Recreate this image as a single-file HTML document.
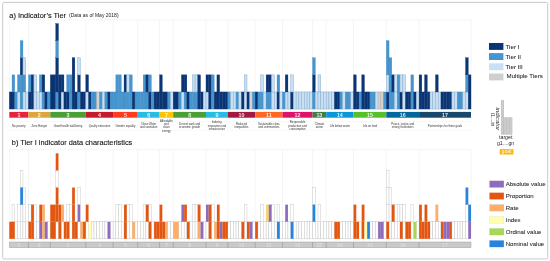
<!DOCTYPE html>
<html lang="en"><head><meta charset="utf-8"><title>SDG indicator tiers</title>
<style>html,body{margin:0;padding:0;background:#fff}body{width:550px;height:261px;position:relative;overflow:hidden}</style></head>
<body>
<svg width="550" height="261" viewBox="0 0 550 261" style="position:absolute;left:0;top:0;font-family:'Liberation Sans',Arial,sans-serif">
<rect x="2.7" y="2.4" width="545" height="256.5" rx="1.2" ry="1.2" fill="#fff" stroke="#c9c9c9" stroke-width="1"/>
<g stroke="#ebebeb" stroke-width="0.5" fill="none"><line x1="9.3" y1="19.8" x2="9.3" y2="109"/><line x1="28.42" y1="19.8" x2="28.42" y2="109"/><line x1="50.28" y1="19.8" x2="50.28" y2="109"/><line x1="85.8" y1="19.8" x2="85.8" y2="109"/><line x1="113.12" y1="19.8" x2="113.12" y2="109"/><line x1="137.7" y1="19.8" x2="137.7" y2="109"/><line x1="159.56" y1="19.8" x2="159.56" y2="109"/><line x1="173.22" y1="19.8" x2="173.22" y2="109"/><line x1="206" y1="19.8" x2="206" y2="109"/><line x1="227.86" y1="19.8" x2="227.86" y2="109"/><line x1="255.18" y1="19.8" x2="255.18" y2="109"/><line x1="282.5" y1="19.8" x2="282.5" y2="109"/><line x1="312.55" y1="19.8" x2="312.55" y2="109"/><line x1="326.21" y1="19.8" x2="326.21" y2="109"/><line x1="353.53" y1="19.8" x2="353.53" y2="109"/><line x1="386.32" y1="19.8" x2="386.32" y2="109"/><line x1="419.1" y1="19.8" x2="419.1" y2="109"/><line x1="471.01" y1="19.8" x2="471.01" y2="109"/><line x1="9.3" y1="19.8" x2="471.01" y2="19.8"/></g>
<g stroke="#f1f1f1" stroke-width="0.5"><line x1="9.3" y1="121.6" x2="471" y2="121.6"/><line x1="9.3" y1="130.2" x2="471" y2="130.2"/></g>
<g stroke="#ebebeb" stroke-width="0.5" fill="none"><line x1="9.3" y1="149.6" x2="9.3" y2="238.6"/><line x1="28.42" y1="149.6" x2="28.42" y2="238.6"/><line x1="50.28" y1="149.6" x2="50.28" y2="238.6"/><line x1="85.8" y1="149.6" x2="85.8" y2="238.6"/><line x1="113.12" y1="149.6" x2="113.12" y2="238.6"/><line x1="137.7" y1="149.6" x2="137.7" y2="238.6"/><line x1="159.56" y1="149.6" x2="159.56" y2="238.6"/><line x1="173.22" y1="149.6" x2="173.22" y2="238.6"/><line x1="206" y1="149.6" x2="206" y2="238.6"/><line x1="227.86" y1="149.6" x2="227.86" y2="238.6"/><line x1="255.18" y1="149.6" x2="255.18" y2="238.6"/><line x1="282.5" y1="149.6" x2="282.5" y2="238.6"/><line x1="312.55" y1="149.6" x2="312.55" y2="238.6"/><line x1="326.21" y1="149.6" x2="326.21" y2="238.6"/><line x1="353.53" y1="149.6" x2="353.53" y2="238.6"/><line x1="386.32" y1="149.6" x2="386.32" y2="238.6"/><line x1="419.1" y1="149.6" x2="419.1" y2="238.6"/><line x1="471.01" y1="149.6" x2="471.01" y2="238.6"/><line x1="9.3" y1="149.6" x2="471.01" y2="149.6"/></g>
<g stroke-width="0.3"><rect x="9.3" y="91.95" width="2.73" height="17.1" fill="#0a3575" stroke="#0a2f68"/><rect x="12.03" y="91.95" width="2.73" height="17.1" fill="#0a3575" stroke="#0a2f68"/><rect x="14.76" y="91.95" width="2.73" height="17.1" fill="#4596d0" stroke="#3b82b8"/><rect x="17.5" y="91.95" width="2.73" height="17.1" fill="#c9e0f4" stroke="#8aadcb" stroke-width="0.5"/><rect x="20.23" y="91.95" width="2.73" height="17.1" fill="#4596d0" stroke="#3b82b8"/><rect x="22.96" y="91.95" width="2.73" height="17.1" fill="#c9e0f4" stroke="#8aadcb" stroke-width="0.5"/><rect x="25.69" y="91.95" width="2.73" height="17.1" fill="#c9e0f4" stroke="#8aadcb" stroke-width="0.5"/><rect x="28.42" y="91.95" width="2.73" height="17.1" fill="#0a3575" stroke="#0a2f68"/><rect x="31.16" y="91.95" width="2.73" height="17.1" fill="#0a3575" stroke="#0a2f68"/><rect x="33.89" y="91.95" width="2.73" height="17.1" fill="#c9e0f4" stroke="#8aadcb" stroke-width="0.5"/><rect x="36.62" y="91.95" width="2.73" height="17.1" fill="#c9e0f4" stroke="#8aadcb" stroke-width="0.5"/><rect x="39.35" y="91.95" width="2.73" height="17.1" fill="#c9e0f4" stroke="#8aadcb" stroke-width="0.5"/><rect x="42.08" y="91.95" width="2.73" height="17.1" fill="#4596d0" stroke="#3b82b8"/><rect x="44.82" y="91.95" width="2.73" height="17.1" fill="#0a3575" stroke="#0a2f68"/><rect x="47.55" y="91.95" width="2.73" height="17.1" fill="#4596d0" stroke="#3b82b8"/><rect x="50.28" y="91.95" width="2.73" height="17.1" fill="#0a3575" stroke="#0a2f68"/><rect x="53.01" y="91.95" width="2.73" height="17.1" fill="#0a3575" stroke="#0a2f68"/><rect x="55.74" y="91.95" width="2.73" height="17.1" fill="#4596d0" stroke="#3b82b8"/><rect x="58.48" y="91.95" width="2.73" height="17.1" fill="#0a3575" stroke="#0a2f68"/><rect x="61.21" y="91.95" width="2.73" height="17.1" fill="#c9e0f4" stroke="#8aadcb" stroke-width="0.5"/><rect x="63.94" y="91.95" width="2.73" height="17.1" fill="#0a3575" stroke="#0a2f68"/><rect x="66.67" y="91.95" width="2.73" height="17.1" fill="#0a3575" stroke="#0a2f68"/><rect x="69.4" y="91.95" width="2.73" height="17.1" fill="#4596d0" stroke="#3b82b8"/><rect x="72.14" y="91.95" width="2.73" height="17.1" fill="#0a3575" stroke="#0a2f68"/><rect x="74.87" y="91.95" width="2.73" height="17.1" fill="#0a3575" stroke="#0a2f68"/><rect x="77.6" y="91.95" width="2.73" height="17.1" fill="#4596d0" stroke="#3b82b8"/><rect x="80.33" y="91.95" width="2.73" height="17.1" fill="#0a3575" stroke="#0a2f68"/><rect x="83.06" y="91.95" width="2.73" height="17.1" fill="#0a3575" stroke="#0a2f68"/><rect x="85.8" y="91.95" width="2.73" height="17.1" fill="#c9e0f4" stroke="#8aadcb" stroke-width="0.5"/><rect x="88.53" y="91.95" width="2.73" height="17.1" fill="#0a3575" stroke="#0a2f68"/><rect x="91.26" y="91.95" width="2.73" height="17.1" fill="#4596d0" stroke="#3b82b8"/><rect x="93.99" y="91.95" width="2.73" height="17.1" fill="#4596d0" stroke="#3b82b8"/><rect x="96.72" y="91.95" width="2.73" height="17.1" fill="#d6d2d0" stroke="#b3adaa" stroke-width="0.5"/><rect x="99.46" y="91.95" width="2.73" height="17.1" fill="#4596d0" stroke="#3b82b8"/><rect x="102.19" y="91.95" width="2.73" height="17.1" fill="#c9e0f4" stroke="#8aadcb" stroke-width="0.5"/><rect x="104.92" y="91.95" width="2.73" height="17.1" fill="#4596d0" stroke="#3b82b8"/><rect x="107.65" y="91.95" width="2.73" height="17.1" fill="#0a3575" stroke="#0a2f68"/><rect x="110.38" y="91.95" width="2.73" height="17.1" fill="#4596d0" stroke="#3b82b8"/><rect x="113.12" y="91.95" width="2.73" height="17.1" fill="#4596d0" stroke="#3b82b8"/><rect x="115.85" y="91.95" width="2.73" height="17.1" fill="#4596d0" stroke="#3b82b8"/><rect x="118.58" y="91.95" width="2.73" height="17.1" fill="#4596d0" stroke="#3b82b8"/><rect x="121.31" y="91.95" width="2.73" height="17.1" fill="#4596d0" stroke="#3b82b8"/><rect x="124.04" y="91.95" width="2.73" height="17.1" fill="#4596d0" stroke="#3b82b8"/><rect x="126.78" y="91.95" width="2.73" height="17.1" fill="#4596d0" stroke="#3b82b8"/><rect x="129.51" y="91.95" width="2.73" height="17.1" fill="#4596d0" stroke="#3b82b8"/><rect x="132.24" y="91.95" width="2.73" height="17.1" fill="#0a3575" stroke="#0a2f68"/><rect x="134.97" y="91.95" width="2.73" height="17.1" fill="#4596d0" stroke="#3b82b8"/><rect x="137.7" y="91.95" width="2.73" height="17.1" fill="#4596d0" stroke="#3b82b8"/><rect x="140.44" y="91.95" width="2.73" height="17.1" fill="#4596d0" stroke="#3b82b8"/><rect x="143.17" y="91.95" width="2.73" height="17.1" fill="#4596d0" stroke="#3b82b8"/><rect x="145.9" y="91.95" width="2.73" height="17.1" fill="#4596d0" stroke="#3b82b8"/><rect x="148.63" y="91.95" width="2.73" height="17.1" fill="#0a3575" stroke="#0a2f68"/><rect x="151.36" y="91.95" width="2.73" height="17.1" fill="#4596d0" stroke="#3b82b8"/><rect x="154.1" y="91.95" width="2.73" height="17.1" fill="#0a3575" stroke="#0a2f68"/><rect x="156.83" y="91.95" width="2.73" height="17.1" fill="#0a3575" stroke="#0a2f68"/><rect x="159.56" y="91.95" width="2.73" height="17.1" fill="#0a3575" stroke="#0a2f68"/><rect x="162.29" y="91.95" width="2.73" height="17.1" fill="#0a3575" stroke="#0a2f68"/><rect x="165.02" y="91.95" width="2.73" height="17.1" fill="#0a3575" stroke="#0a2f68"/><rect x="167.76" y="91.95" width="2.73" height="17.1" fill="#4596d0" stroke="#3b82b8"/><rect x="170.49" y="91.95" width="2.73" height="17.1" fill="#c9e0f4" stroke="#8aadcb" stroke-width="0.5"/><rect x="173.22" y="91.95" width="2.73" height="17.1" fill="#0a3575" stroke="#0a2f68"/><rect x="175.95" y="91.95" width="2.73" height="17.1" fill="#0a3575" stroke="#0a2f68"/><rect x="178.68" y="91.95" width="2.73" height="17.1" fill="#4596d0" stroke="#3b82b8"/><rect x="181.42" y="91.95" width="2.73" height="17.1" fill="#c9e0f4" stroke="#8aadcb" stroke-width="0.5"/><rect x="184.15" y="91.95" width="2.73" height="17.1" fill="#4596d0" stroke="#3b82b8"/><rect x="186.88" y="91.95" width="2.73" height="17.1" fill="#0a3575" stroke="#0a2f68"/><rect x="189.61" y="91.95" width="2.73" height="17.1" fill="#4596d0" stroke="#3b82b8"/><rect x="192.34" y="91.95" width="2.73" height="17.1" fill="#4596d0" stroke="#3b82b8"/><rect x="195.08" y="91.95" width="2.73" height="17.1" fill="#4596d0" stroke="#3b82b8"/><rect x="197.81" y="91.95" width="2.73" height="17.1" fill="#0a3575" stroke="#0a2f68"/><rect x="200.54" y="91.95" width="2.73" height="17.1" fill="#0a3575" stroke="#0a2f68"/><rect x="203.27" y="91.95" width="2.73" height="17.1" fill="#c9e0f4" stroke="#8aadcb" stroke-width="0.5"/><rect x="206" y="91.95" width="2.73" height="17.1" fill="#c9e0f4" stroke="#8aadcb" stroke-width="0.5"/><rect x="208.74" y="91.95" width="2.73" height="17.1" fill="#0a3575" stroke="#0a2f68"/><rect x="211.47" y="91.95" width="2.73" height="17.1" fill="#4596d0" stroke="#3b82b8"/><rect x="214.2" y="91.95" width="2.73" height="17.1" fill="#0a3575" stroke="#0a2f68"/><rect x="216.93" y="91.95" width="2.73" height="17.1" fill="#0a3575" stroke="#0a2f68"/><rect x="219.66" y="91.95" width="2.73" height="17.1" fill="#0a3575" stroke="#0a2f68"/><rect x="222.4" y="91.95" width="2.73" height="17.1" fill="#0a3575" stroke="#0a2f68"/><rect x="225.13" y="91.95" width="2.73" height="17.1" fill="#0a3575" stroke="#0a2f68"/><rect x="227.86" y="91.95" width="2.73" height="17.1" fill="#4596d0" stroke="#3b82b8"/><rect x="230.59" y="91.95" width="2.73" height="17.1" fill="#c9e0f4" stroke="#8aadcb" stroke-width="0.5"/><rect x="233.32" y="91.95" width="2.73" height="17.1" fill="#c9e0f4" stroke="#8aadcb" stroke-width="0.5"/><rect x="236.06" y="91.95" width="2.73" height="17.1" fill="#4596d0" stroke="#3b82b8"/><rect x="238.79" y="91.95" width="2.73" height="17.1" fill="#c9e0f4" stroke="#8aadcb" stroke-width="0.5"/><rect x="241.52" y="91.95" width="2.73" height="17.1" fill="#0a3575" stroke="#0a2f68"/><rect x="244.25" y="91.95" width="2.73" height="17.1" fill="#c9e0f4" stroke="#8aadcb" stroke-width="0.5"/><rect x="246.98" y="91.95" width="2.73" height="17.1" fill="#0a3575" stroke="#0a2f68"/><rect x="249.72" y="91.95" width="2.73" height="17.1" fill="#d6d2d0" stroke="#b3adaa" stroke-width="0.5"/><rect x="252.45" y="91.95" width="2.73" height="17.1" fill="#4596d0" stroke="#3b82b8"/><rect x="255.18" y="91.95" width="2.73" height="17.1" fill="#0a3575" stroke="#0a2f68"/><rect x="257.91" y="91.95" width="2.73" height="17.1" fill="#4596d0" stroke="#3b82b8"/><rect x="260.64" y="91.95" width="2.73" height="17.1" fill="#4596d0" stroke="#3b82b8"/><rect x="263.38" y="91.95" width="2.73" height="17.1" fill="#c9e0f4" stroke="#8aadcb" stroke-width="0.5"/><rect x="266.11" y="91.95" width="2.73" height="17.1" fill="#4596d0" stroke="#3b82b8"/><rect x="268.84" y="91.95" width="2.73" height="17.1" fill="#4596d0" stroke="#3b82b8"/><rect x="271.57" y="91.95" width="2.73" height="17.1" fill="#c9e0f4" stroke="#8aadcb" stroke-width="0.5"/><rect x="274.3" y="91.95" width="2.73" height="17.1" fill="#c9e0f4" stroke="#8aadcb" stroke-width="0.5"/><rect x="277.04" y="91.95" width="2.73" height="17.1" fill="#0a3575" stroke="#0a2f68"/><rect x="279.77" y="91.95" width="2.73" height="17.1" fill="#c9e0f4" stroke="#8aadcb" stroke-width="0.5"/><rect x="282.5" y="91.95" width="2.73" height="17.1" fill="#4596d0" stroke="#3b82b8"/><rect x="285.23" y="91.95" width="2.73" height="17.1" fill="#c9e0f4" stroke="#8aadcb" stroke-width="0.5"/><rect x="287.96" y="91.95" width="2.73" height="17.1" fill="#c9e0f4" stroke="#8aadcb" stroke-width="0.5"/><rect x="290.7" y="91.95" width="2.73" height="17.1" fill="#0a3575" stroke="#0a2f68"/><rect x="293.43" y="91.95" width="2.73" height="17.1" fill="#c9e0f4" stroke="#8aadcb" stroke-width="0.5"/><rect x="296.16" y="91.95" width="2.73" height="17.1" fill="#c9e0f4" stroke="#8aadcb" stroke-width="0.5"/><rect x="298.89" y="91.95" width="2.73" height="17.1" fill="#c9e0f4" stroke="#8aadcb" stroke-width="0.5"/><rect x="301.62" y="91.95" width="2.73" height="17.1" fill="#c9e0f4" stroke="#8aadcb" stroke-width="0.5"/><rect x="304.36" y="91.95" width="2.73" height="17.1" fill="#c9e0f4" stroke="#8aadcb" stroke-width="0.5"/><rect x="307.09" y="91.95" width="2.73" height="17.1" fill="#c9e0f4" stroke="#8aadcb" stroke-width="0.5"/><rect x="309.82" y="91.95" width="2.73" height="17.1" fill="#c9e0f4" stroke="#8aadcb" stroke-width="0.5"/><rect x="312.55" y="91.95" width="2.73" height="17.1" fill="#4596d0" stroke="#3b82b8"/><rect x="315.28" y="91.95" width="2.73" height="17.1" fill="#c9e0f4" stroke="#8aadcb" stroke-width="0.5"/><rect x="318.02" y="91.95" width="2.73" height="17.1" fill="#c9e0f4" stroke="#8aadcb" stroke-width="0.5"/><rect x="320.75" y="91.95" width="2.73" height="17.1" fill="#c9e0f4" stroke="#8aadcb" stroke-width="0.5"/><rect x="323.48" y="91.95" width="2.73" height="17.1" fill="#c9e0f4" stroke="#8aadcb" stroke-width="0.5"/><rect x="326.21" y="91.95" width="2.73" height="17.1" fill="#c9e0f4" stroke="#8aadcb" stroke-width="0.5"/><rect x="328.94" y="91.95" width="2.73" height="17.1" fill="#c9e0f4" stroke="#8aadcb" stroke-width="0.5"/><rect x="331.68" y="91.95" width="2.73" height="17.1" fill="#c9e0f4" stroke="#8aadcb" stroke-width="0.5"/><rect x="334.41" y="91.95" width="2.73" height="17.1" fill="#0a3575" stroke="#0a2f68"/><rect x="337.14" y="91.95" width="2.73" height="17.1" fill="#0a3575" stroke="#0a2f68"/><rect x="339.87" y="91.95" width="2.73" height="17.1" fill="#4596d0" stroke="#3b82b8"/><rect x="342.6" y="91.95" width="2.73" height="17.1" fill="#c9e0f4" stroke="#8aadcb" stroke-width="0.5"/><rect x="345.34" y="91.95" width="2.73" height="17.1" fill="#4596d0" stroke="#3b82b8"/><rect x="348.07" y="91.95" width="2.73" height="17.1" fill="#4596d0" stroke="#3b82b8"/><rect x="350.8" y="91.95" width="2.73" height="17.1" fill="#c9e0f4" stroke="#8aadcb" stroke-width="0.5"/><rect x="353.53" y="91.95" width="2.73" height="17.1" fill="#0a3575" stroke="#0a2f68"/><rect x="356.26" y="91.95" width="2.73" height="17.1" fill="#0a3575" stroke="#0a2f68"/><rect x="359" y="91.95" width="2.73" height="17.1" fill="#4596d0" stroke="#3b82b8"/><rect x="361.73" y="91.95" width="2.73" height="17.1" fill="#0a3575" stroke="#0a2f68"/><rect x="364.46" y="91.95" width="2.73" height="17.1" fill="#0a3575" stroke="#0a2f68"/><rect x="367.19" y="91.95" width="2.73" height="17.1" fill="#0a3575" stroke="#0a2f68"/><rect x="369.92" y="91.95" width="2.73" height="17.1" fill="#4596d0" stroke="#3b82b8"/><rect x="372.66" y="91.95" width="2.73" height="17.1" fill="#4596d0" stroke="#3b82b8"/><rect x="375.39" y="91.95" width="2.73" height="17.1" fill="#c9e0f4" stroke="#8aadcb" stroke-width="0.5"/><rect x="378.12" y="91.95" width="2.73" height="17.1" fill="#d6d2d0" stroke="#b3adaa" stroke-width="0.5"/><rect x="380.85" y="91.95" width="2.73" height="17.1" fill="#d6d2d0" stroke="#b3adaa" stroke-width="0.5"/><rect x="383.58" y="91.95" width="2.73" height="17.1" fill="#4596d0" stroke="#3b82b8"/><rect x="386.32" y="91.95" width="2.73" height="17.1" fill="#0a3575" stroke="#0a2f68"/><rect x="389.05" y="91.95" width="2.73" height="17.1" fill="#4596d0" stroke="#3b82b8"/><rect x="391.78" y="91.95" width="2.73" height="17.1" fill="#4596d0" stroke="#3b82b8"/><rect x="394.51" y="91.95" width="2.73" height="17.1" fill="#c9e0f4" stroke="#8aadcb" stroke-width="0.5"/><rect x="397.24" y="91.95" width="2.73" height="17.1" fill="#4596d0" stroke="#3b82b8"/><rect x="399.98" y="91.95" width="2.73" height="17.1" fill="#0a3575" stroke="#0a2f68"/><rect x="402.71" y="91.95" width="2.73" height="17.1" fill="#c9e0f4" stroke="#8aadcb" stroke-width="0.5"/><rect x="405.44" y="91.95" width="2.73" height="17.1" fill="#0a3575" stroke="#0a2f68"/><rect x="408.17" y="91.95" width="2.73" height="17.1" fill="#0a3575" stroke="#0a2f68"/><rect x="410.9" y="91.95" width="2.73" height="17.1" fill="#4596d0" stroke="#3b82b8"/><rect x="413.64" y="91.95" width="2.73" height="17.1" fill="#0a3575" stroke="#0a2f68"/><rect x="416.37" y="91.95" width="2.73" height="17.1" fill="#c9e0f4" stroke="#8aadcb" stroke-width="0.5"/><rect x="419.1" y="91.95" width="2.73" height="17.1" fill="#0a3575" stroke="#0a2f68"/><rect x="421.83" y="91.95" width="2.73" height="17.1" fill="#0a3575" stroke="#0a2f68"/><rect x="424.56" y="91.95" width="2.73" height="17.1" fill="#0a3575" stroke="#0a2f68"/><rect x="427.3" y="91.95" width="2.73" height="17.1" fill="#0a3575" stroke="#0a2f68"/><rect x="430.03" y="91.95" width="2.73" height="17.1" fill="#c9e0f4" stroke="#8aadcb" stroke-width="0.5"/><rect x="432.76" y="91.95" width="2.73" height="17.1" fill="#c9e0f4" stroke="#8aadcb" stroke-width="0.5"/><rect x="435.49" y="91.95" width="2.73" height="17.1" fill="#c9e0f4" stroke="#8aadcb" stroke-width="0.5"/><rect x="438.22" y="91.95" width="2.73" height="17.1" fill="#c9e0f4" stroke="#8aadcb" stroke-width="0.5"/><rect x="440.96" y="91.95" width="2.73" height="17.1" fill="#0a3575" stroke="#0a2f68"/><rect x="443.69" y="91.95" width="2.73" height="17.1" fill="#0a3575" stroke="#0a2f68"/><rect x="446.42" y="91.95" width="2.73" height="17.1" fill="#0a3575" stroke="#0a2f68"/><rect x="449.15" y="91.95" width="2.73" height="17.1" fill="#0a3575" stroke="#0a2f68"/><rect x="451.88" y="91.95" width="2.73" height="17.1" fill="#c9e0f4" stroke="#8aadcb" stroke-width="0.5"/><rect x="454.62" y="91.95" width="2.73" height="17.1" fill="#c9e0f4" stroke="#8aadcb" stroke-width="0.5"/><rect x="457.35" y="91.95" width="2.73" height="17.1" fill="#4596d0" stroke="#3b82b8"/><rect x="460.08" y="91.95" width="2.73" height="17.1" fill="#4596d0" stroke="#3b82b8"/><rect x="462.81" y="91.95" width="2.73" height="17.1" fill="#c9e0f4" stroke="#8aadcb" stroke-width="0.5"/><rect x="465.54" y="91.95" width="2.73" height="17.1" fill="#c9e0f4" stroke="#8aadcb" stroke-width="0.5"/><rect x="468.28" y="91.95" width="2.73" height="17.1" fill="#0a3575" stroke="#0a2f68"/><rect x="12.03" y="74.85" width="2.73" height="17.1" fill="#4596d0" stroke="#3b82b8"/><rect x="17.5" y="74.85" width="2.73" height="17.1" fill="#4596d0" stroke="#3b82b8"/><rect x="20.23" y="74.85" width="2.73" height="17.1" fill="#4596d0" stroke="#3b82b8"/><rect x="22.96" y="74.85" width="2.73" height="17.1" fill="#4596d0" stroke="#3b82b8"/><rect x="28.42" y="74.85" width="2.73" height="17.1" fill="#4596d0" stroke="#3b82b8"/><rect x="31.16" y="74.85" width="2.73" height="17.1" fill="#0a3575" stroke="#0a2f68"/><rect x="33.89" y="74.85" width="2.73" height="17.1" fill="#c9e0f4" stroke="#8aadcb" stroke-width="0.5"/><rect x="39.35" y="74.85" width="2.73" height="17.1" fill="#4596d0" stroke="#3b82b8"/><rect x="42.08" y="74.85" width="2.73" height="17.1" fill="#0a3575" stroke="#0a2f68"/><rect x="50.28" y="74.85" width="2.73" height="17.1" fill="#0a3575" stroke="#0a2f68"/><rect x="53.01" y="74.85" width="2.73" height="17.1" fill="#0a3575" stroke="#0a2f68"/><rect x="55.74" y="74.85" width="2.73" height="17.1" fill="#0a3575" stroke="#0a2f68"/><rect x="58.48" y="74.85" width="2.73" height="17.1" fill="#0a3575" stroke="#0a2f68"/><rect x="61.21" y="74.85" width="2.73" height="17.1" fill="#0a3575" stroke="#0a2f68"/><rect x="66.67" y="74.85" width="2.73" height="17.1" fill="#4596d0" stroke="#3b82b8"/><rect x="69.4" y="74.85" width="2.73" height="17.1" fill="#4596d0" stroke="#3b82b8"/><rect x="72.14" y="74.85" width="2.73" height="17.1" fill="#0a3575" stroke="#0a2f68"/><rect x="77.6" y="74.85" width="2.73" height="17.1" fill="#0a3575" stroke="#0a2f68"/><rect x="85.8" y="74.85" width="2.73" height="17.1" fill="#0a3575" stroke="#0a2f68"/><rect x="115.85" y="74.85" width="2.73" height="17.1" fill="#4596d0" stroke="#3b82b8"/><rect x="118.58" y="74.85" width="2.73" height="17.1" fill="#4596d0" stroke="#3b82b8"/><rect x="124.04" y="74.85" width="2.73" height="17.1" fill="#0a3575" stroke="#0a2f68"/><rect x="126.78" y="74.85" width="2.73" height="17.1" fill="#c9e0f4" stroke="#8aadcb" stroke-width="0.5"/><rect x="129.51" y="74.85" width="2.73" height="17.1" fill="#4596d0" stroke="#3b82b8"/><rect x="143.17" y="74.85" width="2.73" height="17.1" fill="#4596d0" stroke="#3b82b8"/><rect x="145.9" y="74.85" width="2.73" height="17.1" fill="#0a3575" stroke="#0a2f68"/><rect x="148.63" y="74.85" width="2.73" height="17.1" fill="#4596d0" stroke="#3b82b8"/><rect x="159.56" y="74.85" width="2.73" height="17.1" fill="#0a3575" stroke="#0a2f68"/><rect x="181.42" y="74.85" width="2.73" height="17.1" fill="#0a3575" stroke="#0a2f68"/><rect x="184.15" y="74.85" width="2.73" height="17.1" fill="#0a3575" stroke="#0a2f68"/><rect x="192.34" y="74.85" width="2.73" height="17.1" fill="#c9e0f4" stroke="#8aadcb" stroke-width="0.5"/><rect x="195.08" y="74.85" width="2.73" height="17.1" fill="#c9e0f4" stroke="#8aadcb" stroke-width="0.5"/><rect x="197.81" y="74.85" width="2.73" height="17.1" fill="#0a3575" stroke="#0a2f68"/><rect x="206" y="74.85" width="2.73" height="17.1" fill="#0a3575" stroke="#0a2f68"/><rect x="208.74" y="74.85" width="2.73" height="17.1" fill="#0a3575" stroke="#0a2f68"/><rect x="211.47" y="74.85" width="2.73" height="17.1" fill="#4596d0" stroke="#3b82b8"/><rect x="216.93" y="74.85" width="2.73" height="17.1" fill="#0a3575" stroke="#0a2f68"/><rect x="244.25" y="74.85" width="2.73" height="17.1" fill="#c9e0f4" stroke="#8aadcb" stroke-width="0.5"/><rect x="260.64" y="74.85" width="2.73" height="17.1" fill="#c9e0f4" stroke="#8aadcb" stroke-width="0.5"/><rect x="266.11" y="74.85" width="2.73" height="17.1" fill="#0a3575" stroke="#0a2f68"/><rect x="268.84" y="74.85" width="2.73" height="17.1" fill="#0a3575" stroke="#0a2f68"/><rect x="271.57" y="74.85" width="2.73" height="17.1" fill="#c9e0f4" stroke="#8aadcb" stroke-width="0.5"/><rect x="277.04" y="74.85" width="2.73" height="17.1" fill="#4596d0" stroke="#3b82b8"/><rect x="285.23" y="74.85" width="2.73" height="17.1" fill="#0a3575" stroke="#0a2f68"/><rect x="290.7" y="74.85" width="2.73" height="17.1" fill="#c9e0f4" stroke="#8aadcb" stroke-width="0.5"/><rect x="312.55" y="74.85" width="2.73" height="17.1" fill="#0a3575" stroke="#0a2f68"/><rect x="318.02" y="74.85" width="2.73" height="17.1" fill="#c9e0f4" stroke="#8aadcb" stroke-width="0.5"/><rect x="353.53" y="74.85" width="2.73" height="17.1" fill="#0a3575" stroke="#0a2f68"/><rect x="361.73" y="74.85" width="2.73" height="17.1" fill="#0a3575" stroke="#0a2f68"/><rect x="386.32" y="74.85" width="2.73" height="17.1" fill="#c9e0f4" stroke="#8aadcb" stroke-width="0.5"/><rect x="389.05" y="74.85" width="2.73" height="17.1" fill="#4596d0" stroke="#3b82b8"/><rect x="391.78" y="74.85" width="2.73" height="17.1" fill="#0a3575" stroke="#0a2f68"/><rect x="394.51" y="74.85" width="2.73" height="17.1" fill="#c9e0f4" stroke="#8aadcb" stroke-width="0.5"/><rect x="397.24" y="74.85" width="2.73" height="17.1" fill="#4596d0" stroke="#3b82b8"/><rect x="399.98" y="74.85" width="2.73" height="17.1" fill="#c9e0f4" stroke="#8aadcb" stroke-width="0.5"/><rect x="402.71" y="74.85" width="2.73" height="17.1" fill="#c9e0f4" stroke="#8aadcb" stroke-width="0.5"/><rect x="410.9" y="74.85" width="2.73" height="17.1" fill="#4596d0" stroke="#3b82b8"/><rect x="419.1" y="74.85" width="2.73" height="17.1" fill="#0a3575" stroke="#0a2f68"/><rect x="424.56" y="74.85" width="2.73" height="17.1" fill="#0a3575" stroke="#0a2f68"/><rect x="435.49" y="74.85" width="2.73" height="17.1" fill="#0a3575" stroke="#0a2f68"/><rect x="465.54" y="74.85" width="2.73" height="17.1" fill="#4596d0" stroke="#3b82b8"/><rect x="468.28" y="74.85" width="2.73" height="17.1" fill="#0a3575" stroke="#0a2f68"/><rect x="20.23" y="57.75" width="2.73" height="17.1" fill="#0a3575" stroke="#0a2f68"/><rect x="22.96" y="57.75" width="2.73" height="17.1" fill="#c9e0f4" stroke="#8aadcb" stroke-width="0.5"/><rect x="55.74" y="57.75" width="2.73" height="17.1" fill="#0a3575" stroke="#0a2f68"/><rect x="72.14" y="57.75" width="2.73" height="17.1" fill="#0a3575" stroke="#0a2f68"/><rect x="77.6" y="57.75" width="2.73" height="17.1" fill="#c9e0f4" stroke="#8aadcb" stroke-width="0.5"/><rect x="312.55" y="57.75" width="2.73" height="17.1" fill="#4596d0" stroke="#3b82b8"/><rect x="386.32" y="57.75" width="2.73" height="17.1" fill="#4596d0" stroke="#3b82b8"/><rect x="389.05" y="57.75" width="2.73" height="17.1" fill="#4596d0" stroke="#3b82b8"/><rect x="465.54" y="57.75" width="2.73" height="17.1" fill="#0a3575" stroke="#0a2f68"/><rect x="20.23" y="40.65" width="2.73" height="17.1" fill="#4596d0" stroke="#3b82b8"/><rect x="55.74" y="40.65" width="2.73" height="17.1" fill="#4596d0" stroke="#3b82b8"/><rect x="386.32" y="40.65" width="2.73" height="17.1" fill="#4596d0" stroke="#3b82b8"/><rect x="55.74" y="23.55" width="2.73" height="17.1" fill="#0a3575" stroke="#0a2f68"/></g>
<g fill="#fff" stroke="#bdbdbd" stroke-width="0.4"><rect x="14.76" y="221.75" width="2.73" height="17.1"/><rect x="17.5" y="221.75" width="2.73" height="17.1"/><rect x="20.23" y="221.75" width="2.73" height="17.1"/><rect x="22.96" y="221.75" width="2.73" height="17.1"/><rect x="25.69" y="221.75" width="2.73" height="17.1"/><rect x="33.89" y="221.75" width="2.73" height="17.1"/><rect x="36.62" y="221.75" width="2.73" height="17.1"/><rect x="47.55" y="221.75" width="2.73" height="17.1"/><rect x="55.74" y="221.75" width="2.73" height="17.1"/><rect x="61.21" y="221.75" width="2.73" height="17.1"/><rect x="69.4" y="221.75" width="2.73" height="17.1"/><rect x="77.6" y="221.75" width="2.73" height="17.1"/><rect x="85.8" y="221.75" width="2.73" height="17.1"/><rect x="91.26" y="221.75" width="2.73" height="17.1"/><rect x="93.99" y="221.75" width="2.73" height="17.1"/><rect x="96.72" y="221.75" width="2.73" height="17.1"/><rect x="99.46" y="221.75" width="2.73" height="17.1"/><rect x="102.19" y="221.75" width="2.73" height="17.1"/><rect x="104.92" y="221.75" width="2.73" height="17.1"/><rect x="110.38" y="221.75" width="2.73" height="17.1"/><rect x="113.12" y="221.75" width="2.73" height="17.1"/><rect x="115.85" y="221.75" width="2.73" height="17.1"/><rect x="118.58" y="221.75" width="2.73" height="17.1"/><rect x="121.31" y="221.75" width="2.73" height="17.1"/><rect x="126.78" y="221.75" width="2.73" height="17.1"/><rect x="129.51" y="221.75" width="2.73" height="17.1"/><rect x="134.97" y="221.75" width="2.73" height="17.1"/><rect x="137.7" y="221.75" width="2.73" height="17.1"/><rect x="140.44" y="221.75" width="2.73" height="17.1"/><rect x="143.17" y="221.75" width="2.73" height="17.1"/><rect x="145.9" y="221.75" width="2.73" height="17.1"/><rect x="151.36" y="221.75" width="2.73" height="17.1"/><rect x="167.76" y="221.75" width="2.73" height="17.1"/><rect x="170.49" y="221.75" width="2.73" height="17.1"/><rect x="178.68" y="221.75" width="2.73" height="17.1"/><rect x="181.42" y="221.75" width="2.73" height="17.1"/><rect x="184.15" y="221.75" width="2.73" height="17.1"/><rect x="189.61" y="221.75" width="2.73" height="17.1"/><rect x="192.34" y="221.75" width="2.73" height="17.1"/><rect x="195.08" y="221.75" width="2.73" height="17.1"/><rect x="203.27" y="221.75" width="2.73" height="17.1"/><rect x="206" y="221.75" width="2.73" height="17.1"/><rect x="211.47" y="221.75" width="2.73" height="17.1"/><rect x="227.86" y="221.75" width="2.73" height="17.1"/><rect x="230.59" y="221.75" width="2.73" height="17.1"/><rect x="233.32" y="221.75" width="2.73" height="17.1"/><rect x="236.06" y="221.75" width="2.73" height="17.1"/><rect x="238.79" y="221.75" width="2.73" height="17.1"/><rect x="244.25" y="221.75" width="2.73" height="17.1"/><rect x="252.45" y="221.75" width="2.73" height="17.1"/><rect x="257.91" y="221.75" width="2.73" height="17.1"/><rect x="260.64" y="221.75" width="2.73" height="17.1"/><rect x="263.38" y="221.75" width="2.73" height="17.1"/><rect x="266.11" y="221.75" width="2.73" height="17.1"/><rect x="268.84" y="221.75" width="2.73" height="17.1"/><rect x="271.57" y="221.75" width="2.73" height="17.1"/><rect x="274.3" y="221.75" width="2.73" height="17.1"/><rect x="279.77" y="221.75" width="2.73" height="17.1"/><rect x="282.5" y="221.75" width="2.73" height="17.1"/><rect x="285.23" y="221.75" width="2.73" height="17.1"/><rect x="287.96" y="221.75" width="2.73" height="17.1"/><rect x="293.43" y="221.75" width="2.73" height="17.1"/><rect x="296.16" y="221.75" width="2.73" height="17.1"/><rect x="298.89" y="221.75" width="2.73" height="17.1"/><rect x="301.62" y="221.75" width="2.73" height="17.1"/><rect x="304.36" y="221.75" width="2.73" height="17.1"/><rect x="307.09" y="221.75" width="2.73" height="17.1"/><rect x="309.82" y="221.75" width="2.73" height="17.1"/><rect x="312.55" y="221.75" width="2.73" height="17.1"/><rect x="315.28" y="221.75" width="2.73" height="17.1"/><rect x="318.02" y="221.75" width="2.73" height="17.1"/><rect x="320.75" y="221.75" width="2.73" height="17.1"/><rect x="323.48" y="221.75" width="2.73" height="17.1"/><rect x="326.21" y="221.75" width="2.73" height="17.1"/><rect x="328.94" y="221.75" width="2.73" height="17.1"/><rect x="331.68" y="221.75" width="2.73" height="17.1"/><rect x="339.87" y="221.75" width="2.73" height="17.1"/><rect x="342.6" y="221.75" width="2.73" height="17.1"/><rect x="345.34" y="221.75" width="2.73" height="17.1"/><rect x="348.07" y="221.75" width="2.73" height="17.1"/><rect x="350.8" y="221.75" width="2.73" height="17.1"/><rect x="359" y="221.75" width="2.73" height="17.1"/><rect x="369.92" y="221.75" width="2.73" height="17.1"/><rect x="372.66" y="221.75" width="2.73" height="17.1"/><rect x="375.39" y="221.75" width="2.73" height="17.1"/><rect x="383.58" y="221.75" width="2.73" height="17.1"/><rect x="389.05" y="221.75" width="2.73" height="17.1"/><rect x="391.78" y="221.75" width="2.73" height="17.1"/><rect x="394.51" y="221.75" width="2.73" height="17.1"/><rect x="397.24" y="221.75" width="2.73" height="17.1"/><rect x="402.71" y="221.75" width="2.73" height="17.1"/><rect x="410.9" y="221.75" width="2.73" height="17.1"/><rect x="416.37" y="221.75" width="2.73" height="17.1"/><rect x="430.03" y="221.75" width="2.73" height="17.1"/><rect x="432.76" y="221.75" width="2.73" height="17.1"/><rect x="435.49" y="221.75" width="2.73" height="17.1"/><rect x="438.22" y="221.75" width="2.73" height="17.1"/><rect x="451.88" y="221.75" width="2.73" height="17.1"/><rect x="454.62" y="221.75" width="2.73" height="17.1"/><rect x="457.35" y="221.75" width="2.73" height="17.1"/><rect x="460.08" y="221.75" width="2.73" height="17.1"/><rect x="462.81" y="221.75" width="2.73" height="17.1"/><rect x="465.54" y="221.75" width="2.73" height="17.1"/><rect x="12.03" y="204.65" width="2.73" height="17.1"/><rect x="17.5" y="204.65" width="2.73" height="17.1"/><rect x="20.23" y="204.65" width="2.73" height="17.1"/><rect x="22.96" y="204.65" width="2.73" height="17.1"/><rect x="28.42" y="204.65" width="2.73" height="17.1"/><rect x="33.89" y="204.65" width="2.73" height="17.1"/><rect x="66.67" y="204.65" width="2.73" height="17.1"/><rect x="69.4" y="204.65" width="2.73" height="17.1"/><rect x="115.85" y="204.65" width="2.73" height="17.1"/><rect x="118.58" y="204.65" width="2.73" height="17.1"/><rect x="126.78" y="204.65" width="2.73" height="17.1"/><rect x="129.51" y="204.65" width="2.73" height="17.1"/><rect x="143.17" y="204.65" width="2.73" height="17.1"/><rect x="148.63" y="204.65" width="2.73" height="17.1"/><rect x="192.34" y="204.65" width="2.73" height="17.1"/><rect x="195.08" y="204.65" width="2.73" height="17.1"/><rect x="211.47" y="204.65" width="2.73" height="17.1"/><rect x="244.25" y="204.65" width="2.73" height="17.1"/><rect x="260.64" y="204.65" width="2.73" height="17.1"/><rect x="271.57" y="204.65" width="2.73" height="17.1"/><rect x="277.04" y="204.65" width="2.73" height="17.1"/><rect x="290.7" y="204.65" width="2.73" height="17.1"/><rect x="318.02" y="204.65" width="2.73" height="17.1"/><rect x="386.32" y="204.65" width="2.73" height="17.1"/><rect x="389.05" y="204.65" width="2.73" height="17.1"/><rect x="394.51" y="204.65" width="2.73" height="17.1"/><rect x="397.24" y="204.65" width="2.73" height="17.1"/><rect x="399.98" y="204.65" width="2.73" height="17.1"/><rect x="402.71" y="204.65" width="2.73" height="17.1"/><rect x="410.9" y="204.65" width="2.73" height="17.1"/><rect x="465.54" y="204.65" width="2.73" height="17.1"/><rect x="22.96" y="187.55" width="2.73" height="17.1"/><rect x="77.6" y="187.55" width="2.73" height="17.1"/><rect x="312.55" y="187.55" width="2.73" height="17.1"/><rect x="386.32" y="187.55" width="2.73" height="17.1"/><rect x="389.05" y="187.55" width="2.73" height="17.1"/><rect x="20.23" y="170.45" width="2.73" height="17.1"/><rect x="55.74" y="170.45" width="2.73" height="17.1"/><rect x="386.32" y="170.45" width="2.73" height="17.1"/></g><g stroke="#999" stroke-opacity="0.2" stroke-width="0.25"><rect x="9.3" y="221.75" width="2.73" height="17.1" fill="#e6550d"/><rect x="12.03" y="221.75" width="2.73" height="17.1" fill="#e6550d"/><rect x="28.42" y="221.75" width="2.73" height="17.1" fill="#e6550d"/><rect x="31.16" y="221.75" width="2.73" height="17.1" fill="#e6550d"/><rect x="39.35" y="221.75" width="2.73" height="17.1" fill="#8e6bbf"/><rect x="42.08" y="221.75" width="2.73" height="17.1" fill="#fdae6b"/><rect x="44.82" y="221.75" width="2.73" height="17.1" fill="#8e6bbf"/><rect x="50.28" y="221.75" width="2.73" height="17.1" fill="#e6550d"/><rect x="53.01" y="221.75" width="2.73" height="17.1" fill="#e6550d"/><rect x="58.48" y="221.75" width="2.73" height="17.1" fill="#e6550d"/><rect x="63.94" y="221.75" width="2.73" height="17.1" fill="#e6550d"/><rect x="66.67" y="221.75" width="2.73" height="17.1" fill="#e6550d"/><rect x="72.14" y="221.75" width="2.73" height="17.1" fill="#e6550d"/><rect x="74.87" y="221.75" width="2.73" height="17.1" fill="#e6550d"/><rect x="80.33" y="221.75" width="2.73" height="17.1" fill="#fdae6b"/><rect x="83.06" y="221.75" width="2.73" height="17.1" fill="#e6550d"/><rect x="88.53" y="221.75" width="2.73" height="17.1" fill="#ffffb0"/><rect x="107.65" y="221.75" width="2.73" height="17.1" fill="#8e6bbf"/><rect x="124.04" y="221.75" width="2.73" height="17.1" fill="#e6550d"/><rect x="132.24" y="221.75" width="2.73" height="17.1" fill="#fdae6b"/><rect x="148.63" y="221.75" width="2.73" height="17.1" fill="#e6550d"/><rect x="154.1" y="221.75" width="2.73" height="17.1" fill="#e6550d"/><rect x="156.83" y="221.75" width="2.73" height="17.1" fill="#e6550d"/><rect x="159.56" y="221.75" width="2.73" height="17.1" fill="#e6550d"/><rect x="162.29" y="221.75" width="2.73" height="17.1" fill="#e6550d"/><rect x="165.02" y="221.75" width="2.73" height="17.1" fill="#fdae6b"/><rect x="173.22" y="221.75" width="2.73" height="17.1" fill="#fdae6b"/><rect x="175.95" y="221.75" width="2.73" height="17.1" fill="#fdae6b"/><rect x="186.88" y="221.75" width="2.73" height="17.1" fill="#e6550d"/><rect x="197.81" y="221.75" width="2.73" height="17.1" fill="#fdae6b"/><rect x="200.54" y="221.75" width="2.73" height="17.1" fill="#8e6bbf"/><rect x="208.74" y="221.75" width="2.73" height="17.1" fill="#e6550d"/><rect x="214.2" y="221.75" width="2.73" height="17.1" fill="#fdae6b"/><rect x="216.93" y="221.75" width="2.73" height="17.1" fill="#e6550d"/><rect x="219.66" y="221.75" width="2.73" height="17.1" fill="#8e6bbf"/><rect x="222.4" y="221.75" width="2.73" height="17.1" fill="#e6550d"/><rect x="225.13" y="221.75" width="2.73" height="17.1" fill="#e6550d"/><rect x="241.52" y="221.75" width="2.73" height="17.1" fill="#e6550d"/><rect x="246.98" y="221.75" width="2.73" height="17.1" fill="#e6550d"/><rect x="249.72" y="221.75" width="2.73" height="17.1" fill="#8e6bbf"/><rect x="255.18" y="221.75" width="2.73" height="17.1" fill="#e6550d"/><rect x="277.04" y="221.75" width="2.73" height="17.1" fill="#2484df"/><rect x="290.7" y="221.75" width="2.73" height="17.1" fill="#2484df"/><rect x="334.41" y="221.75" width="2.73" height="17.1" fill="#e6550d"/><rect x="337.14" y="221.75" width="2.73" height="17.1" fill="#e6550d"/><rect x="353.53" y="221.75" width="2.73" height="17.1" fill="#e6550d"/><rect x="356.26" y="221.75" width="2.73" height="17.1" fill="#e6550d"/><rect x="361.73" y="221.75" width="2.73" height="17.1" fill="#e6550d"/><rect x="364.46" y="221.75" width="2.73" height="17.1" fill="#ffffb0"/><rect x="367.19" y="221.75" width="2.73" height="17.1" fill="#2484df"/><rect x="378.12" y="221.75" width="2.73" height="17.1" fill="#8e6bbf"/><rect x="380.85" y="221.75" width="2.73" height="17.1" fill="#8e6bbf"/><rect x="386.32" y="221.75" width="2.73" height="17.1" fill="#e6550d"/><rect x="399.98" y="221.75" width="2.73" height="17.1" fill="#e6550d"/><rect x="405.44" y="221.75" width="2.73" height="17.1" fill="#e6550d"/><rect x="408.17" y="221.75" width="2.73" height="17.1" fill="#e6550d"/><rect x="413.64" y="221.75" width="2.73" height="17.1" fill="#a6d854"/><rect x="419.1" y="221.75" width="2.73" height="17.1" fill="#e6550d"/><rect x="421.83" y="221.75" width="2.73" height="17.1" fill="#e6550d"/><rect x="424.56" y="221.75" width="2.73" height="17.1" fill="#e6550d"/><rect x="427.3" y="221.75" width="2.73" height="17.1" fill="#e6550d"/><rect x="440.96" y="221.75" width="2.73" height="17.1" fill="#e6550d"/><rect x="443.69" y="221.75" width="2.73" height="17.1" fill="#8e6bbf"/><rect x="446.42" y="221.75" width="2.73" height="17.1" fill="#8e6bbf"/><rect x="449.15" y="221.75" width="2.73" height="17.1" fill="#e6550d"/><rect x="468.28" y="221.75" width="2.73" height="17.1" fill="#8e6bbf"/><rect x="31.16" y="204.65" width="2.73" height="17.1" fill="#e6550d"/><rect x="39.35" y="204.65" width="2.73" height="17.1" fill="#e6550d"/><rect x="42.08" y="204.65" width="2.73" height="17.1" fill="#fdae6b"/><rect x="50.28" y="204.65" width="2.73" height="17.1" fill="#e6550d"/><rect x="53.01" y="204.65" width="2.73" height="17.1" fill="#e6550d"/><rect x="55.74" y="204.65" width="2.73" height="17.1" fill="#e6550d"/><rect x="58.48" y="204.65" width="2.73" height="17.1" fill="#e6550d"/><rect x="61.21" y="204.65" width="2.73" height="17.1" fill="#fdae6b"/><rect x="72.14" y="204.65" width="2.73" height="17.1" fill="#e6550d"/><rect x="77.6" y="204.65" width="2.73" height="17.1" fill="#8e6bbf"/><rect x="85.8" y="204.65" width="2.73" height="17.1" fill="#e6550d"/><rect x="124.04" y="204.65" width="2.73" height="17.1" fill="#e6550d"/><rect x="145.9" y="204.65" width="2.73" height="17.1" fill="#e6550d"/><rect x="159.56" y="204.65" width="2.73" height="17.1" fill="#e6550d"/><rect x="181.42" y="204.65" width="2.73" height="17.1" fill="#8e6bbf"/><rect x="184.15" y="204.65" width="2.73" height="17.1" fill="#e6550d"/><rect x="197.81" y="204.65" width="2.73" height="17.1" fill="#e6550d"/><rect x="206" y="204.65" width="2.73" height="17.1" fill="#8e6bbf"/><rect x="208.74" y="204.65" width="2.73" height="17.1" fill="#e6550d"/><rect x="216.93" y="204.65" width="2.73" height="17.1" fill="#e6550d"/><rect x="266.11" y="204.65" width="2.73" height="17.1" fill="#fdd45e"/><rect x="268.84" y="204.65" width="2.73" height="17.1" fill="#8e6bbf"/><rect x="285.23" y="204.65" width="2.73" height="17.1" fill="#8e6bbf"/><rect x="312.55" y="204.65" width="2.73" height="17.1" fill="#2484df"/><rect x="353.53" y="204.65" width="2.73" height="17.1" fill="#e6550d"/><rect x="361.73" y="204.65" width="2.73" height="17.1" fill="#e6550d"/><rect x="391.78" y="204.65" width="2.73" height="17.1" fill="#e6550d"/><rect x="419.1" y="204.65" width="2.73" height="17.1" fill="#e6550d"/><rect x="424.56" y="204.65" width="2.73" height="17.1" fill="#e6550d"/><rect x="435.49" y="204.65" width="2.73" height="17.1" fill="#fdae6b"/><rect x="468.28" y="204.65" width="2.73" height="17.1" fill="#2484df"/><rect x="20.23" y="187.55" width="2.73" height="17.1" fill="#2484df"/><rect x="55.74" y="187.55" width="2.73" height="17.1" fill="#e6550d"/><rect x="72.14" y="187.55" width="2.73" height="17.1" fill="#e6550d"/><rect x="465.54" y="187.55" width="2.73" height="17.1" fill="#2484df"/><rect x="55.74" y="153.35" width="2.73" height="17.1" fill="#e6550d"/></g>
<rect x="9.3" y="111.9" width="19.12" height="5.8" fill="#e5243b"/><rect x="28.42" y="111.9" width="21.86" height="5.8" fill="#dda63a"/><rect x="50.28" y="111.9" width="35.52" height="5.8" fill="#4c9f38"/><rect x="85.8" y="111.9" width="27.32" height="5.8" fill="#c5192d"/><rect x="113.12" y="111.9" width="24.59" height="5.8" fill="#ff3a21"/><rect x="137.7" y="111.9" width="21.86" height="5.8" fill="#26bde2"/><rect x="159.56" y="111.9" width="13.66" height="5.8" fill="#fcc30b"/><rect x="173.22" y="111.9" width="32.78" height="5.8" fill="#4c9f38"/><rect x="206" y="111.9" width="21.86" height="5.8" fill="#26bde2"/><rect x="227.86" y="111.9" width="27.32" height="5.8" fill="#a21942"/><rect x="255.18" y="111.9" width="27.32" height="5.8" fill="#fd6925"/><rect x="282.5" y="111.9" width="30.05" height="5.8" fill="#dd1367"/><rect x="312.55" y="111.9" width="13.66" height="5.8" fill="#3f7e44"/><rect x="326.21" y="111.9" width="27.32" height="5.8" fill="#0a97d9"/><rect x="353.53" y="111.9" width="32.78" height="5.8" fill="#56c02b"/><rect x="386.32" y="111.9" width="32.78" height="5.8" fill="#00689d"/><rect x="419.1" y="111.9" width="51.91" height="5.8" fill="#19486a"/>
<g font-size="5.3" fill="#fff" text-anchor="middle" font-weight="bold" fill-opacity="0.85"><text x="18.86" y="116.6">1</text><text x="39.35" y="116.6">2</text><text x="68.04" y="116.6">3</text><text x="99.46" y="116.6">4</text><text x="125.41" y="116.6">5</text><text x="148.63" y="116.6">6</text><text x="166.39" y="116.6">7</text><text x="189.61" y="116.6">8</text><text x="216.93" y="116.6">9</text><text x="241.52" y="116.6">10</text><text x="268.84" y="116.6">11</text><text x="297.53" y="116.6">12</text><text x="319.38" y="116.6">13</text><text x="339.87" y="116.6">14</text><text x="369.92" y="116.6">15</text><text x="402.71" y="116.6">16</text><text x="445.05" y="116.6">17</text></g>
<g font-size="2.8" fill="#333" text-anchor="middle"><text x="18.86" y="126.6">No poverty</text><text x="39.35" y="126.6">Zero Hunger</text><text x="68.04" y="126.6">Good health well-being</text><text x="99.46" y="126.6">Quality education</text><text x="125.41" y="126.6">Gender equality</text><text x="148.63" y="124.9">Clean Water</text><text x="148.63" y="128.3">and sanitation</text><text x="166.39" y="121.5">Affordable</text><text x="166.39" y="124.9">and</text><text x="166.39" y="128.3">clean</text><text x="166.39" y="131.7">energy</text><text x="189.61" y="124.9">Decent work and</text><text x="189.61" y="128.3">economic growth</text><text x="216.93" y="123.2">Industry,</text><text x="216.93" y="126.6">innovation and</text><text x="216.93" y="130">infrastructure</text><text x="241.52" y="124.9">Reduced</text><text x="241.52" y="128.3">inequalities</text><text x="268.84" y="124.9">Sustainable cities</text><text x="268.84" y="128.3">and communities</text><text x="297.53" y="123.2">Responsible</text><text x="297.53" y="126.6">production and</text><text x="297.53" y="130">consumption</text><text x="319.38" y="124.9">Climate</text><text x="319.38" y="128.3">action</text><text x="339.87" y="126.6">Life below water</text><text x="369.92" y="126.6">Life on land</text><text x="402.71" y="124.9">Peace, justice and</text><text x="402.71" y="128.3">strong institutions</text><text x="445.05" y="126.6">Partnerships for there goals</text></g>
<rect x="9.3" y="242" width="461.71" height="5.7" fill="#c9c9c9" stroke="#9a9a9a" stroke-width="0.45"/><line x1="28.42" y1="242" x2="28.42" y2="247.7" stroke="#8c8c8c" stroke-width="0.5"/><line x1="50.28" y1="242" x2="50.28" y2="247.7" stroke="#8c8c8c" stroke-width="0.5"/><line x1="85.8" y1="242" x2="85.8" y2="247.7" stroke="#8c8c8c" stroke-width="0.5"/><line x1="113.12" y1="242" x2="113.12" y2="247.7" stroke="#8c8c8c" stroke-width="0.5"/><line x1="137.7" y1="242" x2="137.7" y2="247.7" stroke="#8c8c8c" stroke-width="0.5"/><line x1="159.56" y1="242" x2="159.56" y2="247.7" stroke="#8c8c8c" stroke-width="0.5"/><line x1="173.22" y1="242" x2="173.22" y2="247.7" stroke="#8c8c8c" stroke-width="0.5"/><line x1="206" y1="242" x2="206" y2="247.7" stroke="#8c8c8c" stroke-width="0.5"/><line x1="227.86" y1="242" x2="227.86" y2="247.7" stroke="#8c8c8c" stroke-width="0.5"/><line x1="255.18" y1="242" x2="255.18" y2="247.7" stroke="#8c8c8c" stroke-width="0.5"/><line x1="282.5" y1="242" x2="282.5" y2="247.7" stroke="#8c8c8c" stroke-width="0.5"/><line x1="312.55" y1="242" x2="312.55" y2="247.7" stroke="#8c8c8c" stroke-width="0.5"/><line x1="326.21" y1="242" x2="326.21" y2="247.7" stroke="#8c8c8c" stroke-width="0.5"/><line x1="353.53" y1="242" x2="353.53" y2="247.7" stroke="#8c8c8c" stroke-width="0.5"/><line x1="386.32" y1="242" x2="386.32" y2="247.7" stroke="#8c8c8c" stroke-width="0.5"/><line x1="419.1" y1="242" x2="419.1" y2="247.7" stroke="#8c8c8c" stroke-width="0.5"/>
<g font-size="5.3" fill="#dcdcdc" text-anchor="middle" font-weight="bold"><text x="18.86" y="246.7">1</text><text x="39.35" y="246.7">2</text><text x="68.04" y="246.7">3</text><text x="99.46" y="246.7">4</text><text x="125.41" y="246.7">5</text><text x="148.63" y="246.7">6</text><text x="166.39" y="246.7">7</text><text x="189.61" y="246.7">8</text><text x="216.93" y="246.7">9</text><text x="241.52" y="246.7">10</text><text x="268.84" y="246.7">11</text><text x="297.53" y="246.7">12</text><text x="319.38" y="246.7">13</text><text x="339.87" y="246.7">14</text><text x="369.92" y="246.7">15</text><text x="402.71" y="246.7">16</text><text x="445.05" y="246.7">17</text></g>
<text x="9.3" y="17.5" font-size="7.38" fill="#111" stroke="#111" stroke-width="0.1">a) Indicator’s Tier</text>
<text x="69.1" y="17.3" font-size="5" fill="#222">(Data as of May 2018)</text>
<text x="11.8" y="144.6" font-size="7.38" fill="#111" stroke="#111" stroke-width="0.1">b) Tier I indicator data characteristics</text>
<rect x="489" y="43" width="14.4" height="6.9" fill="#0a3575"/><text x="505.6" y="48.7" font-size="6.15" fill="#222" stroke="#222" stroke-width="0.05">Tier I</text><rect x="489" y="53.1" width="14.4" height="6.9" fill="#4596d0"/><text x="505.6" y="58.8" font-size="6.15" fill="#222" stroke="#222" stroke-width="0.05">Tier II</text><rect x="489" y="63.3" width="14.4" height="6.9" fill="#c9e0f4"/><text x="505.6" y="69" font-size="6.15" fill="#222" stroke="#222" stroke-width="0.05">Tier III</text><rect x="489" y="73.5" width="14.4" height="6.9" fill="#cfcfcf"/><text x="506.6" y="78" font-size="6.15" fill="#222" stroke="#222" stroke-width="0.05">Multiple Tiers</text>
<rect x="489.5" y="180.8" width="14.4" height="6.7" fill="#8e6bbf" stroke="#bbb" stroke-opacity="0.5" stroke-width="0.3"/>
<text x="505.7" y="186.4" font-size="6.08" fill="#222" stroke="#222" stroke-width="0.05">Absolute value</text>
<rect x="489.5" y="192.7" width="14.4" height="6.7" fill="#e6550d" stroke="#bbb" stroke-opacity="0.5" stroke-width="0.3"/>
<text x="505.7" y="198.3" font-size="6.08" fill="#222" stroke="#222" stroke-width="0.05">Proportion</text>
<rect x="489.5" y="204.5" width="14.4" height="6.7" fill="#fdae6b" stroke="#bbb" stroke-opacity="0.5" stroke-width="0.3"/>
<text x="505.7" y="210.1" font-size="6.08" fill="#222" stroke="#222" stroke-width="0.05">Rate</text>
<rect x="489.5" y="216.5" width="14.4" height="6.7" fill="#ffffb0" stroke="#bbb" stroke-opacity="0.5" stroke-width="0.3"/>
<text x="505.7" y="222.1" font-size="6.08" fill="#222" stroke="#222" stroke-width="0.05">Index</text>
<rect x="489.5" y="228.4" width="14.4" height="6.7" fill="#a6d854" stroke="#bbb" stroke-opacity="0.5" stroke-width="0.3"/>
<text x="505.7" y="234" font-size="6.08" fill="#222" stroke="#222" stroke-width="0.05">Ordinal value</text>
<rect x="489.5" y="240.4" width="14.4" height="6.7" fill="#2484df" stroke="#bbb" stroke-opacity="0.5" stroke-width="0.3"/>
<text x="505.7" y="246" font-size="6.08" fill="#222" stroke="#222" stroke-width="0.05">Nominal value</text>
<g fill="#cbcbcb" stroke="#b0b0b0" stroke-width="0.3"><rect x="501.1" y="100.3" width="2.75" height="17.1" /><rect x="501.1" y="117.6" width="2.75" height="16.8"/><rect x="503.85" y="117.6" width="2.75" height="16.8"/><rect x="506.6" y="117.6" width="2.75" height="16.8"/><rect x="509.35" y="117.6" width="2.75" height="16.8"/></g>
<text transform="translate(496.2,107.6) rotate(90)" font-size="6" fill="#333" font-style="italic">indicator</text>
<text transform="translate(491,112.8) rotate(90)" font-size="5.1" fill="#333">i1....in</text>
<text x="505.7" y="139.4" font-size="5.2" fill="#222" text-anchor="middle">target</text>
<text x="505.6" y="145.2" font-size="5.2" fill="#222" text-anchor="middle">g1....gn</text>
<rect x="499.7" y="149.1" width="13.7" height="5.4" fill="#f5b70f"/>
<text x="506.5" y="153.3" font-size="5.2" fill="#fff" fill-opacity="0.9" text-anchor="middle">goal</text>
</svg>
</body></html>
